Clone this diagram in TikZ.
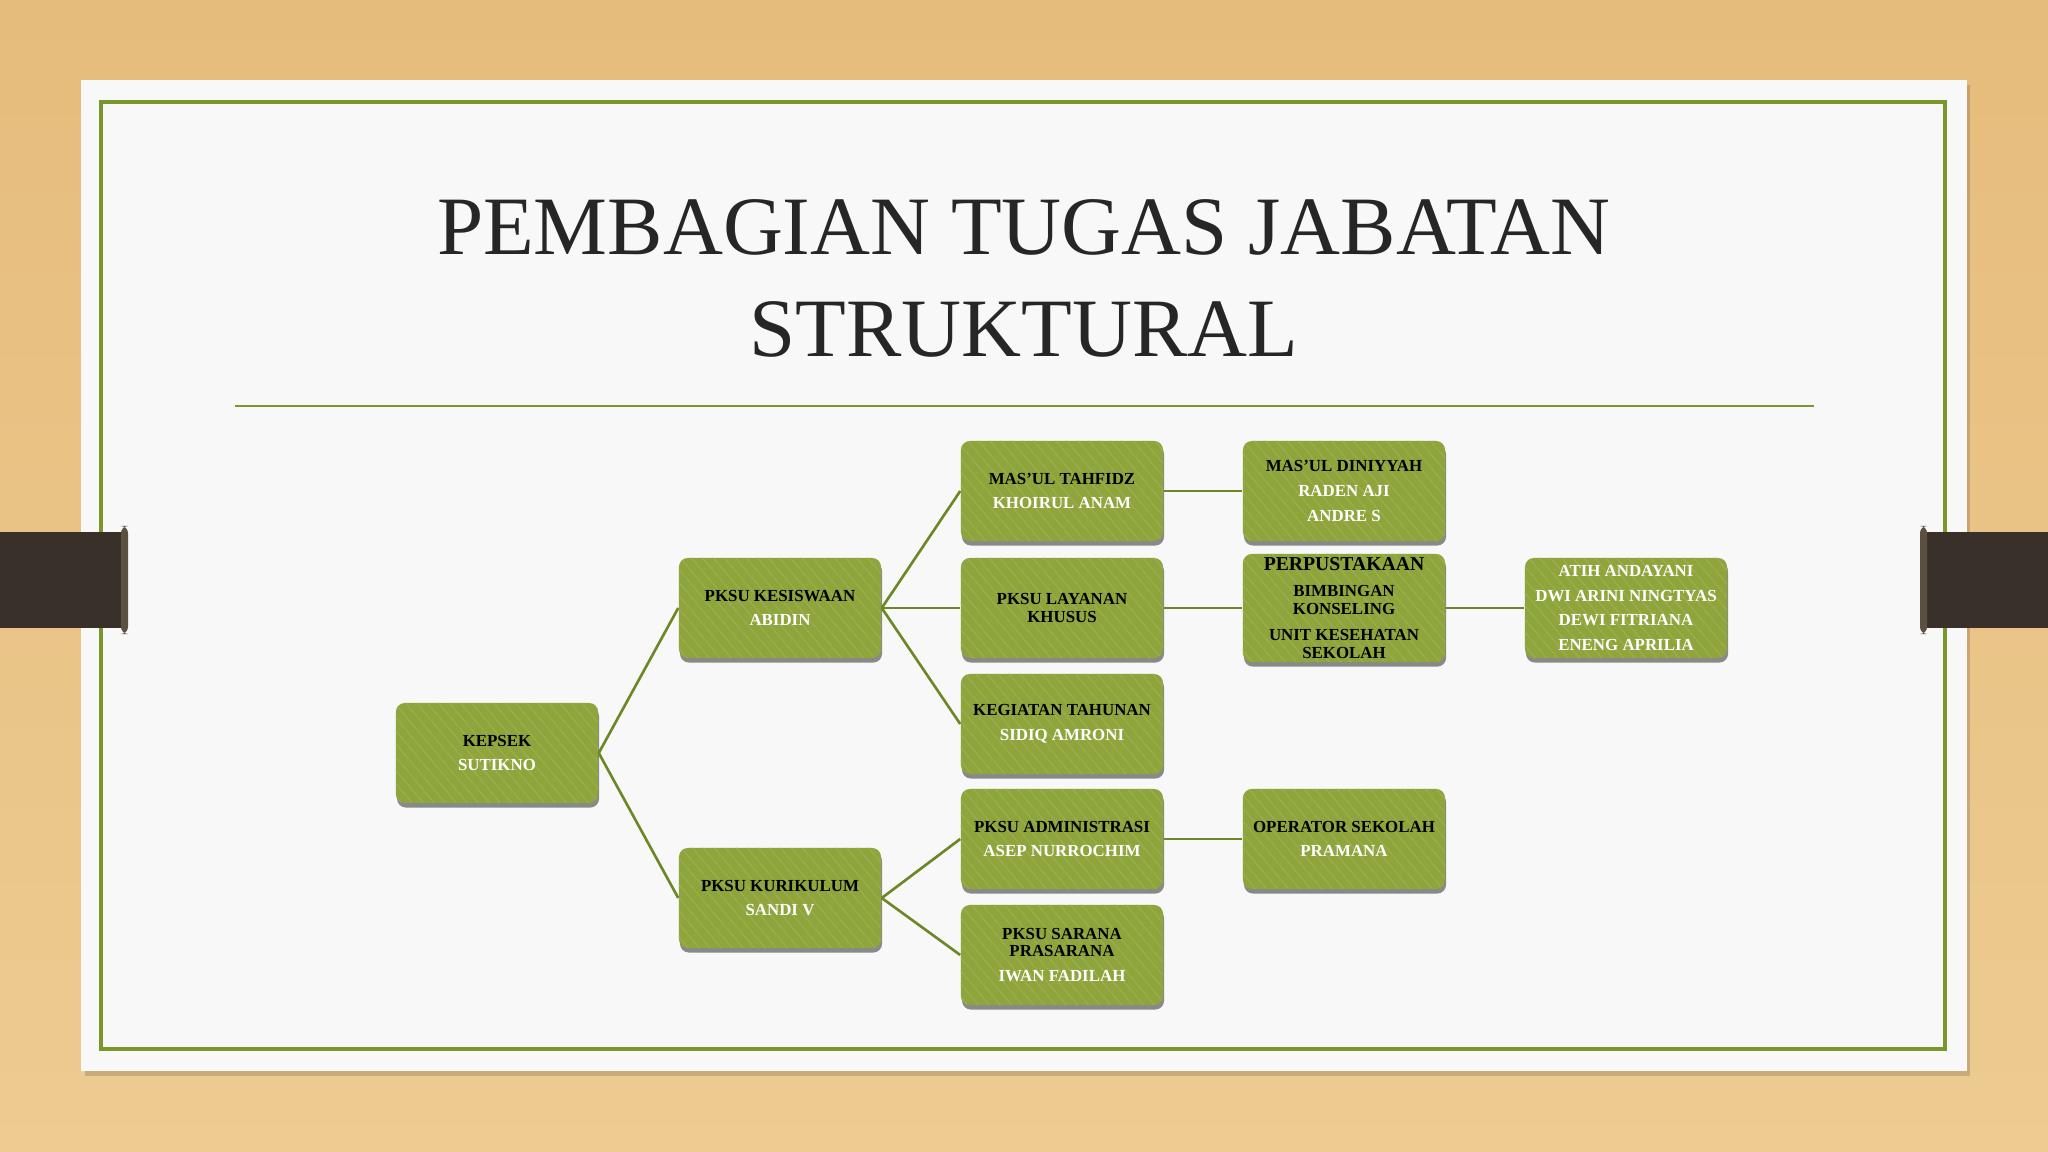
\documentclass[tikz,border=0pt]{standalone}
\usepackage{fontspec}
\setmainfont{Liberation Serif}
\usetikzlibrary{shadows,patterns.meta}

\definecolor{wood}{HTML}{E6BC7C}
\definecolor{woodlight}{HTML}{EDCB91}
\definecolor{card}{HTML}{F8F8F8}
\definecolor{frame}{HTML}{7A972C}
\definecolor{boxfill}{HTML}{8DA53B}
\definecolor{linkc}{HTML}{6C8726}
\definecolor{strap}{HTML}{3A302A}
\definecolor{straptip}{HTML}{5C5040}

\begin{document}
\begin{tikzpicture}[x=0.01cm,y=-0.01cm,
  orgbox/.style={rectangle, rounded corners=0.09cm, fill=boxfill,
    minimum width=2.02cm, minimum height=1.0cm, align=center,
    font=\bfseries\fontsize{4.8}{5.0}\selectfont, inner sep=1pt,
    drop shadow={shadow xshift=0.3pt, shadow yshift=-1.3pt, opacity=0.6, fill=black!75},
    postaction={pattern={Lines[angle=-50,distance=2.4pt,line width=0.35pt]}, pattern color=boxfill!90!white}},
  conn/.style={draw=linkc, line width=0.75pt},
  ttl/.style={anchor=base, font=\fontsize{23.6}{28}\selectfont, text=black!85}
]
% background
\fill[top color=wood, bottom color=woodlight] (0,0) rectangle (2048,1152);
\useasboundingbox (0,0) rectangle (2048,1152);
% card
\fill[black, opacity=0.15] (85,85) rectangle (1970,1076);
\fill[card] (81,80) rectangle (1967,1071);
\draw[frame, line width=0.9pt] (101,102) rectangle (1945,1049);

% title
\node[ttl] (t1) at (1024,255) {PEMBAGIAN TUGAS JABATAN};
\node[ttl] (t2) at (1024,357) {STRUKTURAL};
\coordinate (rl) at (235,406);
\coordinate (rr) at (1814,406);
\draw[frame, line width=0.6pt] (rl) -- (rr);

% boxes
\node[orgbox] (kepsek) at (497,753) {KEPSEK\\[2pt]\textcolor{white}{SUTIKNO}};
\node[orgbox] (kes) at (780,608) {PKSU KESISWAAN\\[2pt]\textcolor{white}{ABIDIN}};
\node[orgbox] (kur) at (780,898) {PKSU KURIKULUM\\[2pt]\textcolor{white}{SANDI V}};
\node[orgbox] (tahfidz) at (1062,491) {MAS’UL TAHFIDZ\\[2pt]\textcolor{white}{KHOIRUL ANAM}};
\node[orgbox] (layanan) at (1062,608) {PKSU LAYANAN\\KHUSUS};
\node[orgbox] (kegiatan) at (1062,724) {KEGIATAN TAHUNAN\\[2pt]\textcolor{white}{SIDIQ AMRONI}};
\node[orgbox] (admin) at (1062,839) {PKSU ADMINISTRASI\\[2pt]\textcolor{white}{ASEP NURROCHIM}};
\node[orgbox] (sarana) at (1062,955) {PKSU SARANA\\PRASARANA\\[2pt]\textcolor{white}{IWAN FADILAH}};
\node[orgbox] (diniyyah) at (1344,491) {MAS’UL DINIYYAH\\[2pt]\textcolor{white}{RADEN AJI}\\[2pt]\textcolor{white}{ANDRE S}};
\node[orgbox] (perpus) at (1344,608) {{\fontsize{5.6}{5.8}\selectfont PERPUSTAKAAN}\\[2.5pt]BIMBINGAN\\KONSELING\\[2.5pt]UNIT KESEHATAN\\SEKOLAH};
\node[orgbox] (operator) at (1344,839) {OPERATOR SEKOLAH\\[2pt]\textcolor{white}{PRAMANA}};
\node[orgbox, text=white] (atih) at (1626,608) {ATIH ANDAYANI\\[2pt]DWI ARINI NINGTYAS\\[2pt]DEWI FITRIANA\\[2pt]ENENG APRILIA};

% connectors
\draw[conn] (kepsek.east) -- (kes.west);
\draw[conn] (kepsek.east) -- (kur.west);
\draw[conn] (kes.east) -- (tahfidz.west);
\draw[conn] (kes.east) -- (layanan.west);
\draw[conn] (kes.east) -- (kegiatan.west);
\draw[conn] (kur.east) -- (admin.west);
\draw[conn] (kur.east) -- (sarana.west);
\draw[conn] (tahfidz.east) -- (diniyyah.west);
\draw[conn] (layanan.east) -- (perpus.west);
\draw[conn] (perpus.east) -- (atih.west);
\draw[conn] (admin.east) -- (operator.west);

% straps
\fill[strap] (0,532) rectangle (125,628);
\fill[straptip, rounded corners=2pt] (121,526) rectangle (128,634);
\fill[strap] (1923,532) rectangle (2048,628);
\fill[straptip, rounded corners=2pt] (1920,526) rectangle (1927,634);
\end{tikzpicture}
\end{document}
